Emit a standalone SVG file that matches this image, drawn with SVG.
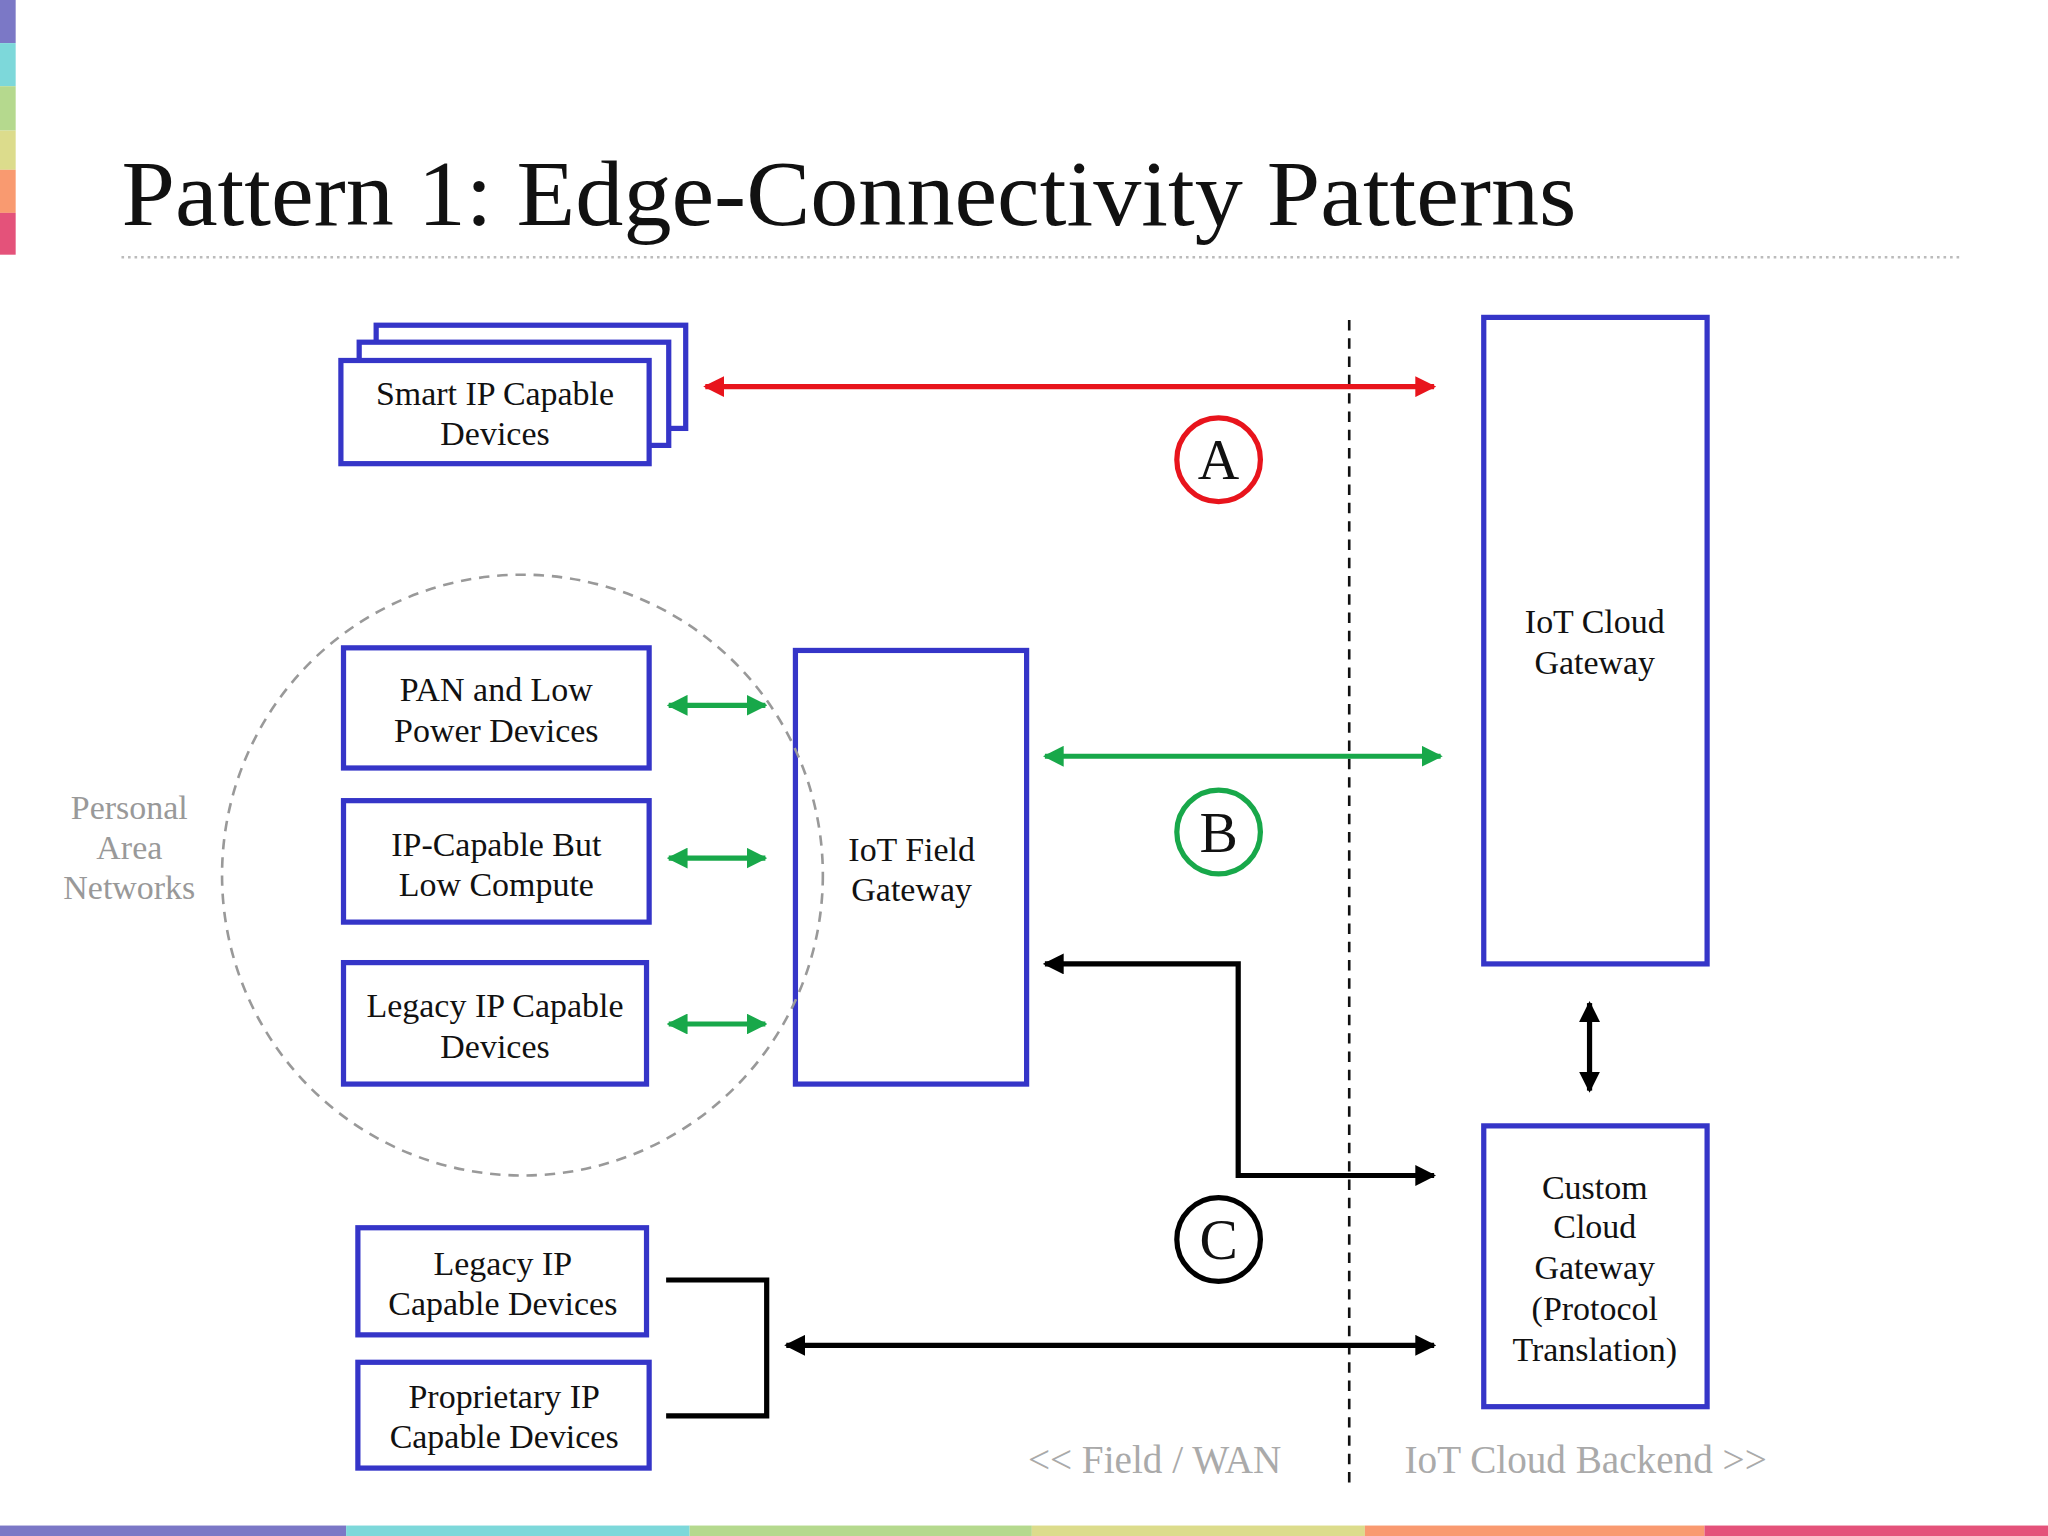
<svg xmlns="http://www.w3.org/2000/svg" width="2048" height="1536" viewBox="0 0 2048 1536">
<defs>
<style>
.n{fill:#fff;stroke:#3535c8;stroke-width:4}
.t{font-family:"Liberation Serif",serif;font-size:26px;fill:#111;text-anchor:middle}
.g{font-family:"Liberation Serif",serif;font-size:26px;fill:#999;text-anchor:middle}
.w{font-family:"Liberation Serif",serif;font-size:30px;fill:#aaa;text-anchor:middle}
.c{font-family:"Liberation Serif",serif;font-size:44px;fill:#111;text-anchor:middle}
</style>
<marker id="ar" viewBox="0 0 10 10" refX="9" refY="5" markerWidth="4" markerHeight="4" orient="auto-start-reverse"><path d="M0,0L10,5L0,10z" fill="#e8141c"/></marker>
<marker id="ag" viewBox="0 0 10 10" refX="9" refY="5" markerWidth="4" markerHeight="4" orient="auto-start-reverse"><path d="M0,0L10,5L0,10z" fill="#18a84a"/></marker>
<marker id="ak" viewBox="0 0 10 10" refX="9" refY="5" markerWidth="4" markerHeight="4" orient="auto-start-reverse"><path d="M0,0L10,5L0,10z" fill="#000"/></marker>
</defs>
<rect width="2048" height="1536" fill="#fff"/>
<g transform="scale(1.30612)">
<rect x="0" y="0" width="12" height="33" fill="#7b78c6"/>
<rect x="0" y="33" width="12" height="33" fill="#7dd8da"/>
<rect x="0" y="66" width="12" height="34" fill="#b5d98e"/>
<rect x="0" y="100" width="12" height="30" fill="#dcdc8c"/>
<rect x="0" y="130" width="12" height="33" fill="#f99a70"/>
<rect x="0" y="163" width="12" height="32" fill="#e4527a"/>
<rect x="0" y="1168" width="265" height="8" fill="#7b78c6"/>
<rect x="265" y="1168" width="263" height="8" fill="#7dd8da"/>
<rect x="528" y="1168" width="262" height="8" fill="#b5d98e"/>
<rect x="790" y="1168" width="255" height="8" fill="#dcdc8c"/>
<rect x="1045" y="1168" width="260" height="8" fill="#f99a70"/>
<rect x="1305" y="1168" width="263" height="8" fill="#e4527a"/>
<text x="93" y="172" font-family="Liberation Serif,serif" font-size="72" fill="#111" textLength="1114" lengthAdjust="spacingAndGlyphs">Pattern 1: Edge-Connectivity Patterns</text>
<line x1="93" y1="197" x2="1500" y2="197" stroke="#bbb" stroke-width="2" stroke-dasharray="2,3"/>
<line x1="1033" y1="245" x2="1033" y2="1138" stroke="#111" stroke-width="2" stroke-dasharray="8,6"/>
<g id="connectors" fill="none">
<line x1="540" y1="296" x2="1098" y2="296" stroke="#e8141c" stroke-width="4" marker-start="url(#ar)" marker-end="url(#ar)"/>
<line x1="512" y1="540" x2="586" y2="540" stroke="#18a84a" stroke-width="4" marker-start="url(#ag)" marker-end="url(#ag)"/>
<line x1="512" y1="657" x2="586" y2="657" stroke="#18a84a" stroke-width="4" marker-start="url(#ag)" marker-end="url(#ag)"/>
<line x1="512" y1="784" x2="586" y2="784" stroke="#18a84a" stroke-width="4" marker-start="url(#ag)" marker-end="url(#ag)"/>
<line x1="800" y1="579" x2="1103" y2="579" stroke="#18a84a" stroke-width="4" marker-start="url(#ag)" marker-end="url(#ag)"/>
<polyline points="800,738 948,738 948,900 1098,900" stroke="#000" stroke-width="4" marker-start="url(#ak)" marker-end="url(#ak)"/>
<line x1="1217" y1="768" x2="1217" y2="835" stroke="#000" stroke-width="4" marker-start="url(#ak)" marker-end="url(#ak)"/>
<polyline points="510,980 587,980 587,1084 510,1084" stroke="#000" stroke-width="4"/>
<line x1="602" y1="1030" x2="1098" y2="1030" stroke="#000" stroke-width="4" marker-start="url(#ak)" marker-end="url(#ak)"/>
</g>
<g id="labelA"><circle cx="933" cy="352" r="32" fill="#fff" stroke="#e8141c" stroke-width="4"/><text class="c" x="933" y="367">A</text></g>
<g id="labelB"><circle cx="933" cy="637" r="32" fill="#fff" stroke="#18a84a" stroke-width="4"/><text class="c" x="933" y="652">B</text></g>
<g id="labelC"><circle cx="933" cy="949" r="32" fill="#fff" stroke="#000" stroke-width="4"/><text class="c" x="933" y="964">C</text></g>
<g id="smart">
<rect class="n" x="288" y="249" width="237" height="79"/>
<rect class="n" x="275" y="262" width="237" height="79"/>
<rect class="n" x="261" y="276" width="236" height="79"/>
<text class="t" x="379" y="310">Smart IP Capable</text><text class="t" x="379" y="341">Devices</text>
</g>
<g id="cloudgw"><rect class="n" x="1136" y="243" width="171" height="495"/><text class="t" x="1221" y="485">IoT Cloud</text><text class="t" x="1221" y="516">Gateway</text></g>
<g id="fieldgw"><rect class="n" x="609" y="498" width="177" height="332"/><text class="t" x="698" y="659">IoT Field</text><text class="t" x="698" y="690">Gateway</text></g>
<circle cx="400" cy="670" r="230" fill="none" stroke="#999" stroke-width="2" stroke-dasharray="8,6"/>
<g id="pan"><rect class="n" x="263" y="496" width="234" height="92"/><text class="t" x="380" y="537">PAN and Low</text><text class="t" x="380" y="568">Power Devices</text></g>
<g id="iplow"><rect class="n" x="263" y="613" width="234" height="93"/><text class="t" x="380" y="655">IP-Capable But</text><text class="t" x="380" y="686">Low Compute</text></g>
<g id="legacy1"><rect class="n" x="263" y="737" width="232" height="93"/><text class="t" x="379" y="779">Legacy IP Capable</text><text class="t" x="379" y="810">Devices</text></g>
<g id="customgw"><rect class="n" x="1136" y="862" width="171" height="215"/>
<text class="t" x="1221" y="918">Custom</text><text class="t" x="1221" y="948">Cloud</text><text class="t" x="1221" y="979">Gateway</text><text class="t" x="1221" y="1011">(Protocol</text><text class="t" x="1221" y="1042">Translation)</text></g>
<g id="legacy2"><rect class="n" x="274" y="940" width="221" height="82"/><text class="t" x="385" y="976">Legacy IP</text><text class="t" x="385" y="1007">Capable Devices</text></g>
<g id="prop"><rect class="n" x="274" y="1043" width="223" height="81"/><text class="t" x="386" y="1078">Proprietary IP</text><text class="t" x="386" y="1109">Capable Devices</text></g>
<text class="g" x="99" y="627">Personal</text><text class="g" x="99" y="658">Area</text><text class="g" x="99" y="688">Networks</text>
<text class="w" x="884" y="1128">&lt;&lt; Field / WAN</text>
<text class="w" x="1214" y="1128">IoT Cloud Backend &gt;&gt;</text>
</g>
</svg>
